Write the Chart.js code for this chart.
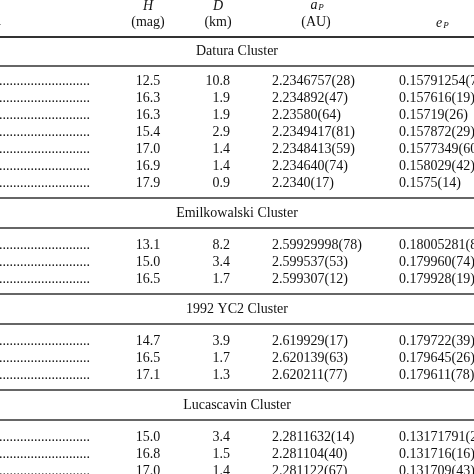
<!DOCTYPE html>
<html><head><meta charset="utf-8">
<script src="https://cdn.jsdelivr.net/npm/chart.js@4"></script>
<style>html,body{margin:0;padding:0;background:#fff}#w{width:474px;height:474px}</style>
</head><body><div id="w"><canvas id="c"></canvas></div>
<script>
const clusters = ["Datura Cluster","Emilkowalski Cluster","1992 YC2 Cluster","Lucascavin Cluster"];
const H = [[12.5,16.3,16.3,15.4,17.0,16.9,17.9],[13.1,15.0,16.5],[14.7,16.5,17.1],[15.0,16.8,17.0]];
const D = [[10.8,1.9,1.9,2.9,1.4,1.4,0.9],[8.2,3.4,1.7],[3.9,1.7,1.3],[3.4,1.5,1.4]];
const aP = [["2.2346757(28)","2.234892(47)","2.23580(64)","2.2349417(81)","2.2348413(59)","2.234640(74)","2.2340(17)"],
            ["2.59929998(78)","2.599537(53)","2.599307(12)"],
            ["2.619929(17)","2.620139(63)","2.620211(77)"],
            ["2.2811632(14)","2.281104(40)","2.281122(67)"]];
const eP = [["0.15791254(7","0.157616(19)","0.15719(26)","0.157872(29)","0.1577349(60","0.158029(42)","0.1575(14)"],
            ["0.18005281(8","0.179960(74)","0.179928(19)"],
            ["0.179722(39)","0.179645(26)","0.179611(78)"],
            ["0.13171791(2","0.131716(16)","0.131709(43)"]];

const tablePlugin = {
  id:'table',
  afterDraw(chart){
    const ctx = chart.ctx, xs = chart.scales.x, ys = chart.scales.y;
    const X = v=>xs.getPixelForValue(v), Y = v=>ys.getPixelForValue(v);
    ctx.save();
    ctx.fillStyle='#111'; ctx.strokeStyle='#333';
    ctx.textBaseline='middle';
    const serif='"Liberation Serif", "DejaVu Serif", serif';
    const rule=(y,w)=>{ctx.lineWidth=w;ctx.beginPath();ctx.moveTo(X(0),Y(y));ctx.lineTo(X(474),Y(y));ctx.stroke();};
    ctx.font='italic 14px '+serif; ctx.textAlign='center';
    ctx.fillText('H',X(148),Y(6)); ctx.fillText('D',X(218),Y(6)); ctx.fillText('a',X(314),Y(5));
    ctx.fillText('e',X(439),Y(23));
    ctx.font='italic 9px '+serif; ctx.fillText('P',X(321),Y(8)); ctx.fillText('P',X(446),Y(26));
    ctx.font='14px '+serif;
    ctx.fillText('(mag)',X(148),Y(22)); ctx.fillText('(km)',X(218),Y(22)); ctx.fillText('(AU)',X(316),Y(22));
    ctx.font='bold 14px '+serif; ctx.textAlign='left'; ctx.fillText('l',X(-3),Y(21));
    rule(37,2);
    ctx.font='14px '+serif;
    let dots='.'; while(ctx.measureText(dots+'.').width<=91) dots+='.';
    let y=51;
    clusters.forEach((name,ci)=>{
      ctx.font='14px '+serif; ctx.textAlign='center';
      ctx.fillText(name,X(237),Y(y));
      rule(y+15,1.5);
      let ry=y+15+(ci===0?15:17);
      H[ci].forEach((h,i)=>{
        ctx.textAlign='left';
        ctx.fillText(dots,X(-1),Y(ry));
        ctx.textAlign='center'; ctx.fillText(h.toFixed(1),X(148),Y(ry));
        ctx.textAlign='right'; ctx.fillText(D[ci][i].toFixed(1),X(230),Y(ry));
        ctx.textAlign='left'; ctx.fillText(aP[ci][i],X(272),Y(ry));
        ctx.fillText(eP[ci][i],X(399),Y(ry));
        if(i<H[ci].length-1) ry+=17;
      });
      if(ci<clusters.length-1){ rule(ry+15,1.5); y=ry+30; }
    });
    ctx.restore();
  }
};
new Chart(document.getElementById('c'),{
  type:'scatter',
  data:{datasets:[{data:[]}]},
  options:{responsive:true,maintainAspectRatio:false,animation:false,
    layout:{padding:0},
    plugins:{legend:{display:false},tooltip:{enabled:false}},
    scales:{x:{type:'linear',min:0,max:474,display:false},
            y:{type:'linear',min:0,max:474,reverse:true,display:false}}},
  plugins:[tablePlugin]
});
</script></body></html>
